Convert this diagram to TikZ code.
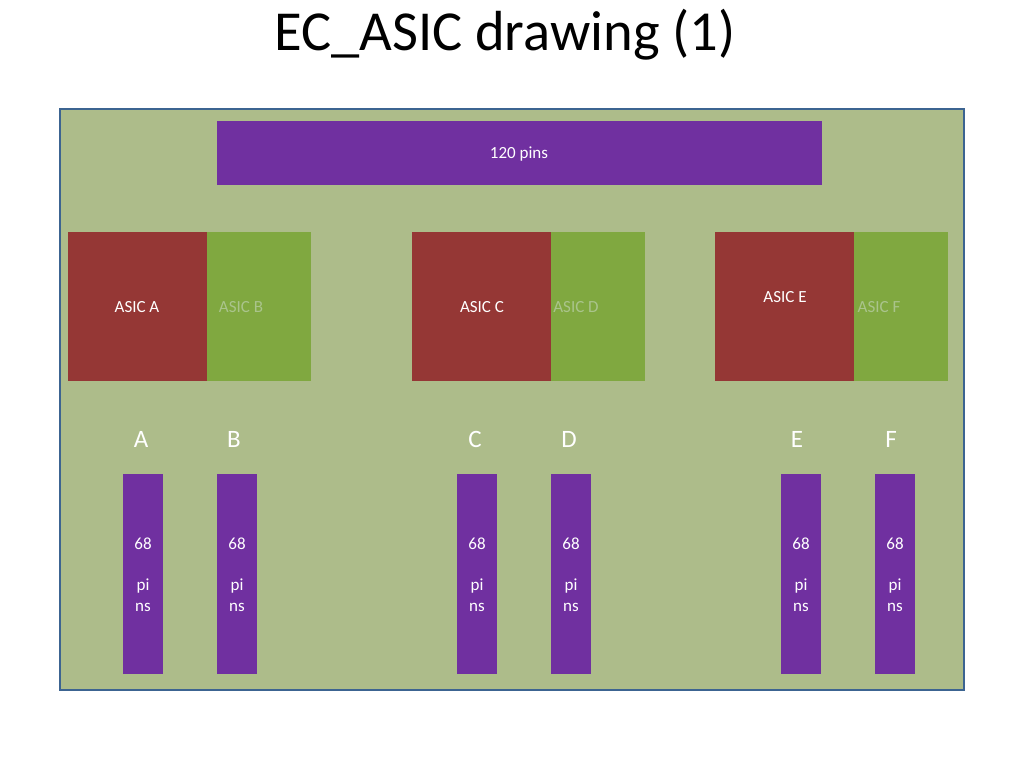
\documentclass[tikz,border=0pt]{standalone}
\usepackage{fontspec}
\setmainfont{Carlito}
\definecolor{board}{RGB}{173,188,138}
\definecolor{boardline}{RGB}{60,100,145}
\definecolor{pinpurple}{RGB}{112,48,160}
\definecolor{asicred}{RGB}{149,55,53}
\definecolor{asicgreen}{RGB}{128,168,64}
\definecolor{dimtext}{RGB}{170,196,140}
\begin{document}
\begin{tikzpicture}[x=1pt,y=-1pt,
  wtext/.style={text=white,font=\fontsize{17}{20}\selectfont,inner sep=0pt},
  gtext/.style={text=dimtext,font=\fontsize{17}{20}\selectfont,inner sep=0pt},
  letter/.style={text=white,font=\fontsize{25}{30}\selectfont,inner sep=0pt},
  pintext/.style={text=white,font=\fontsize{17}{20.5}\selectfont,align=center,inner sep=0pt,anchor=north}
]
\useasboundingbox (0,0) rectangle (1024,768);
\fill[white] (0,0) rectangle (1024,768);
\node[font=\fontsize{56.5}{64}\selectfont,inner sep=0pt] (title) at (505,35) {EC\_ASIC drawing (1)};
\draw[fill=board,draw=boardline,line width=2.2pt] (60,109) rectangle (964,690);
% 120 pins
\fill[pinpurple] (217,121) rectangle (822,185);
\node[wtext] (p120) at (519,154) {120 pins};
% ASICs
\fill[asicred] (68,232) rectangle (207,381);
\fill[asicgreen] (207,232) rectangle (311,381);
\node[wtext] (aA) at (137,307) {ASIC A};
\node[gtext] (aB) at (241,307) {ASIC B};
\fill[asicred] (412,232) rectangle (551,381);
\fill[asicgreen] (551,232) rectangle (645,381);
\node[wtext] (aC) at (482,307) {ASIC C};
\node[gtext] (aD) at (576,307) {ASIC D};
\fill[asicred] (715,232) rectangle (854,381);
\fill[asicgreen] (854,232) rectangle (948,381);
\node[wtext] (aE) at (785,297) {ASIC E};
\node[gtext] (aF) at (879,307) {ASIC F};
% letters
\foreach \n/\x in {A/141,B/234,C/475,D/569,E/797,F/891}{
  \node[letter] (L\n) at (\x,439) {\n};
}
% pin bars
\foreach \n/\x in {A/123,B/217,C/457,D/551,E/781,F/875}{
  \fill[pinpurple] (\x,474) rectangle ++(40,200);
  \node[pintext] (P\n) at (\x+20,538) {68\\[20.5pt]pi\\ns};
}
\end{tikzpicture}
\end{document}
